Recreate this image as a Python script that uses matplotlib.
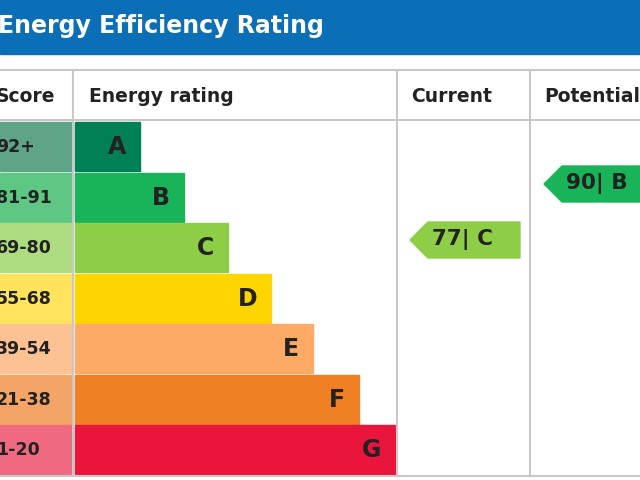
import matplotlib
matplotlib.use("Agg")
import matplotlib.pyplot as plt
from matplotlib.patches import Rectangle, Polygon

bands = ["A", "B", "C", "D", "E", "F", "G"]
scores = ["92+", "81-91", "69-80", "55-68", "39-54", "21-38", "1-20"]
current_value, current_band = 77, "C"
potential_value, potential_band = 90, "B"

bar_ends = [140, 184, 228, 271, 313, 359, 395]
colors = ["#008054", "#19b459", "#8dce46", "#ffd500", "#fcaa65", "#ef8023", "#e9153b"]
light = ["#5fa486", "#5ec784", "#aedc80", "#ffe35c", "#fcc293", "#f3a466", "#ef6a80"]

fig = plt.figure(figsize=(6.4, 4.8), dpi=100)
ax = fig.add_axes([0, 0, 1, 1])
ax.set_xlim(0, 640); ax.set_ylim(480, 0); ax.axis("off")

ax.add_patch(Rectangle((0, 0), 640, 54, color="#0b6fb8"))
ax.text(-2, 26, "Energy Efficiency Rating", color="white", fontsize=17, fontweight="bold", va="center", ha="left")

grey = "#c8c8c8"
ax.plot([0, 640], [70, 70], color=grey, lw=1.5)
ax.plot([0, 640], [120, 120], color=grey, lw=1.5)
ax.plot([0, 640], [476, 476], color=grey, lw=1.5)
for x in [73, 397, 530]:
    ax.plot([x, x], [70, 476], color=grey, lw=1.5)
hs = 13.5
ax.text(-4, 96, "Score", fontsize=hs, fontweight="bold", va="center", color="#222")
ax.text(89, 96, "Energy rating", fontsize=hs, fontweight="bold", va="center", color="#222")
ax.text(411, 96, "Current", fontsize=hs, fontweight="bold", va="center", color="#222")
ax.text(544, 96, "Potential", fontsize=hs, fontweight="bold", va="center", color="#222")

top, h = 122, 50.5
for i, b in enumerate(bands):
    y = top + i * h
    ax.add_patch(Rectangle((0, y), 73, h - 1.5, color=light[i]))
    ax.text(-4, y + h / 2, scores[i], fontsize=12.5, fontweight="bold", va="center", color="#222")
    ax.add_patch(Rectangle((75, y), bar_ends[i] - 75, h - 1.5, color=colors[i]))
    ax.text(bar_ends[i] - 14, y + h / 2, b, fontsize=17, fontweight="bold", va="center", ha="right", color="#222")

def arrow(x0, x1, yc, val, band):
    c = colors[bands.index(band)]
    hh = 18
    ax.add_patch(Polygon([(x0, yc), (x0 + 18, yc - hh), (x1, yc - hh), (x1, yc + hh), (x0 + 18, yc + hh)], color=c))
    ax.text(x0 + 22, yc, f"{val}| {band}", fontsize=15.5, fontweight="bold", va="center", color="#222")

arrow(410, 520, 240, current_value, current_band)
arrow(544, 660, 184, potential_value, potential_band)

fig.savefig("out.png", dpi=100)
